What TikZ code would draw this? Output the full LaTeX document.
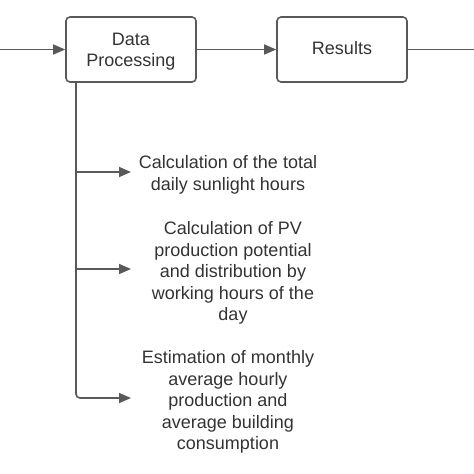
\documentclass[tikz,border=0pt]{standalone}
\usepackage{fontspec}
\setmainfont{Liberation Sans}
\usepackage{xcolor}
\usetikzlibrary{positioning,arrows.meta}
\definecolor{lineg}{HTML}{595959}
\definecolor{textg}{HTML}{333333}

\begin{document}
\begin{tikzpicture}[x=1pt,y=-1pt,
  box/.style={draw=lineg, line width=1.6pt, rounded corners=4pt, minimum width=130pt, minimum height=65pt,
    align=center, text=textg, font=\fontsize{18}{21}\selectfont},
  note/.style={align=center, text=textg, font=\fontsize{18}{21.5}\selectfont},
  link/.style={draw=lineg, line width=1.6pt, -{Triangle[length=12pt,width=10pt]}},
  wire/.style={draw=lineg, line width=1.6pt}]
  \useasboundingbox (0,0) rectangle (474,474);
  % main flow
  \node[box, text depth=0pt] (proc) at (131,49.5) {Data\\Processing};
  \node[box, text depth=3pt] (res) at (342,49.5) {Results};
  \coordinate (src) at (0,49.5);
  \coordinate (sink) at (474,49.5);
  \draw[link] (src) -- (proc);
  \draw[link] (proc) -- (res);
  \draw[wire] (res) -- (sink);
  % processing steps
  \node[note] (sun) at (228,175) {Calculation of the total\\daily sunlight hours};
  \node[note] (pv) at (233,273) {Calculation of PV\\production potential\\and distribution by\\working hours of the\\day};
  \node[note] (est) at (228,402) {Estimation of monthly\\average hourly\\production and\\average building\\consumption};
  \coordinate (trunk) at (76,82);
  \coordinate (j1) at (76,172);
  \coordinate (j2) at (76,269);
  \coordinate (e1) at (131,172);
  \coordinate (e2) at (131,269);
  \coordinate (e3) at (131,398);
  \draw[link, rounded corners=4pt] (trunk) |- (e3);
  \draw[link] (j1) -- (e1);
  \draw[link] (j2) -- (e2);
\end{tikzpicture}
\end{document}
